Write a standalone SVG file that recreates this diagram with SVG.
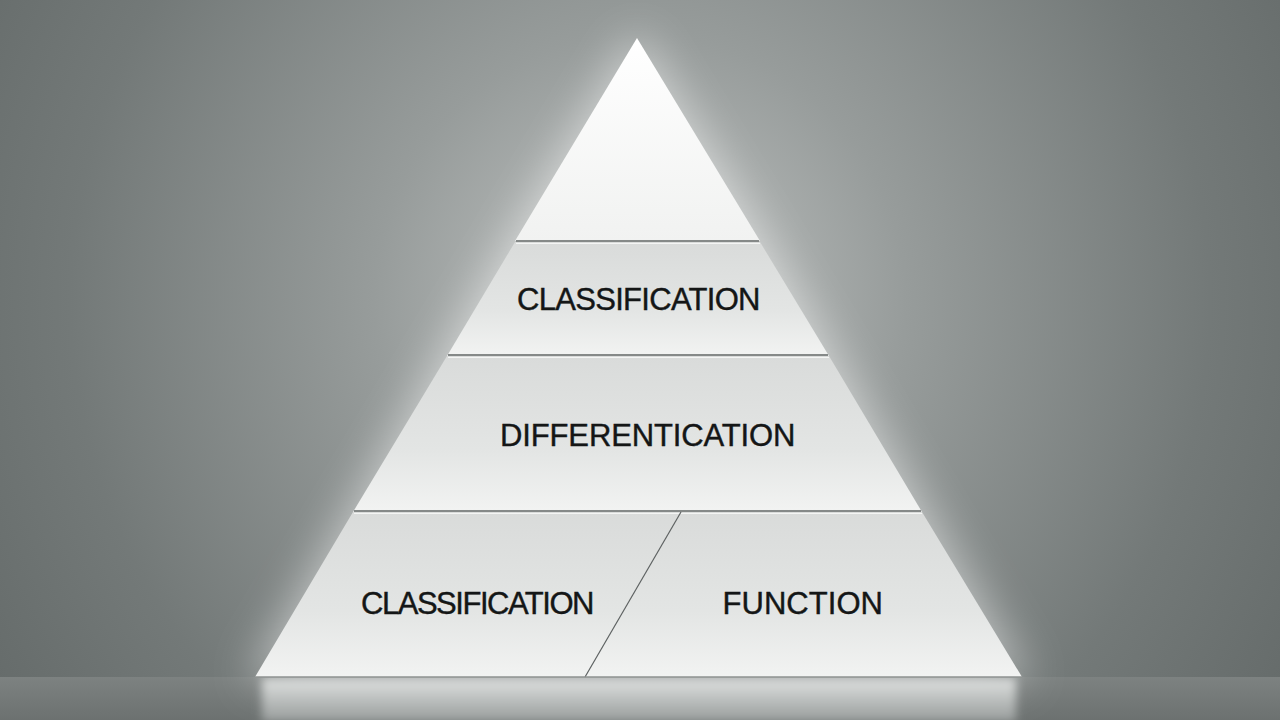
<svg xmlns="http://www.w3.org/2000/svg" width="1280" height="720" viewBox="0 0 1280 720">
  <defs>
    <radialGradient id="bg" cx="640" cy="300" r="760" gradientUnits="userSpaceOnUse">
      <stop offset="0" stop-color="#c2c5c4"/>
      <stop offset="0.35" stop-color="#979c9b"/>
      <stop offset="0.75" stop-color="#737978"/>
      <stop offset="1" stop-color="#656b6a"/>
    </radialGradient>
    <linearGradient id="floor" x1="0" y1="677" x2="0" y2="720" gradientUnits="userSpaceOnUse">
      <stop offset="0" stop-color="#7d8281"/>
      <stop offset="1" stop-color="#6c7170"/>
    </linearGradient>
    <linearGradient id="refl" x1="0" y1="677" x2="0" y2="720" gradientUnits="userSpaceOnUse">
      <stop offset="0" stop-color="#e4e6e5" stop-opacity="0.95"/>
      <stop offset="1" stop-color="#b9bdbc" stop-opacity="0.6"/>
    </linearGradient>
    <linearGradient id="slab" x1="0" y1="0" x2="0" y2="1">
      <stop offset="0" stop-color="#d9dbda"/>
      <stop offset="0.6" stop-color="#e3e5e4"/>
      <stop offset="1" stop-color="#f2f3f2"/>
    </linearGradient>
    <linearGradient id="top" x1="0" y1="0" x2="0" y2="1">
      <stop offset="0" stop-color="#ffffff"/>
      <stop offset="1" stop-color="#f1f2f1"/>
    </linearGradient>
    <filter id="glow" x="-30%" y="-30%" width="160%" height="160%">
      <feGaussianBlur stdDeviation="22"/>
    </filter>
    <filter id="soft" x="-20%" y="-200%" width="140%" height="500%">
      <feGaussianBlur stdDeviation="5"/>
    </filter>
    <style>
      .lbl { font-family: "Liberation Sans", "DejaVu Sans", sans-serif; font-size: 31px; fill: #141616; stroke: #141616; stroke-width: 0.4; text-anchor: middle; letter-spacing: 0.5px; }
      .sep { stroke: #858988; stroke-width: 2; }
      .hl { stroke: #f4f5f4; stroke-width: 1; }
    </style>
  </defs>

  <!-- background -->
  <rect x="0" y="0" width="1280" height="720" fill="url(#bg)"/>
  <rect x="0" y="677" width="1280" height="43" fill="url(#floor)"/>
  <!-- glow and reflection -->
  <polygon points="637,30 1030,680 248,680" fill="#ffffff" opacity="0.5" filter="url(#glow)"/>
  <rect x="262" y="678" width="754" height="44" fill="url(#refl)" filter="url(#soft)"/>

  <g id="apex">
    <polygon points="637,38 760,241 515,241" fill="url(#top)"/>
  </g>

  <g id="layer-classification-top">
    <polygon points="515,242 760,242 829,356 447,356" fill="url(#slab)"/>
    <text class="lbl" x="639" y="310" textLength="244">CLASSIFICATION</text>
  </g>

  <g id="layer-differentiation">
    <polygon points="447,356 829,356 922,512 353,512" fill="url(#slab)"/>
    <text class="lbl" x="648" y="446" textLength="296">DIFFERENTICATION</text>
  </g>

  <g id="layer-classification-bottom">
    <polygon points="353,512 681,512 585,677 255,677" fill="url(#slab)"/>
    <text class="lbl" x="478" y="614" textLength="234">CLASSIFICATION</text>
  </g>

  <g id="layer-function">
    <polygon points="681,512 922,512 1022,677 585,677" fill="url(#slab)"/>
    <text class="lbl" x="803" y="614" textLength="161">FUNCTION</text>
  </g>

  <g id="connectors">
    <line class="sep" x1="516" y1="241" x2="759" y2="241"/>
    <line class="hl" x1="516" y1="243.5" x2="760" y2="243.5"/>
    <line class="sep" x1="448" y1="355" x2="828" y2="355"/>
    <line class="hl" x1="448" y1="357.5" x2="829" y2="357.5"/>
    <line class="sep" x1="354" y1="511" x2="921" y2="511"/>
    <line class="hl" x1="354" y1="513.5" x2="922" y2="513.5"/>
    <line x1="681" y1="512" x2="585" y2="677" stroke="#5e6262" stroke-width="1.2"/>
    <line x1="255" y1="677" x2="1022" y2="677" stroke="#8e9291" stroke-width="1.5"/>
  </g>
</svg>
